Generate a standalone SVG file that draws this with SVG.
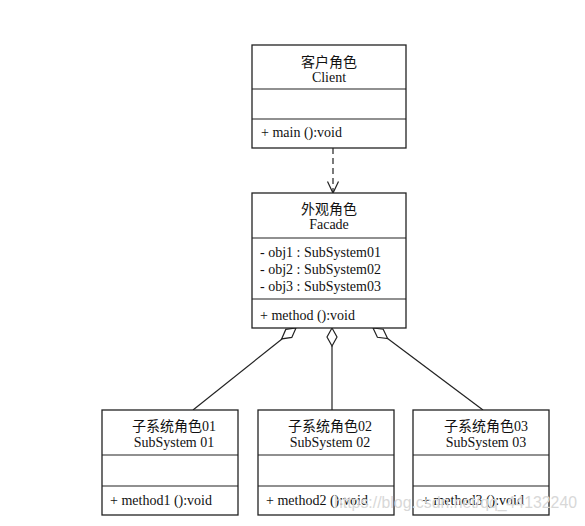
<svg xmlns="http://www.w3.org/2000/svg" width="585" height="526" viewBox="0 0 585 526">
<style>
.box{fill:#fff;stroke:#222;stroke-width:1.3}
.div{stroke:#222;stroke-width:1.2}
.t{font-family:"Liberation Serif","Noto Sans CJK SC",serif;font-size:14px;fill:#111}
.c{text-anchor:middle}
.ln{stroke:#222;stroke-width:1.2;fill:none}
.dia{fill:#fff;stroke:#222;stroke-width:1.2}
.wm{font-family:"Liberation Sans",sans-serif;font-size:16px;fill:#d8d8d8}
</style>
<rect width="585" height="526" fill="#fff"/>
<g id="connectors">
<line class="ln" x1="333" y1="148" x2="333" y2="192" stroke-dasharray="6,4"/>
<polyline class="ln" points="327.5,181.5 333,193 338.5,181.5"/>
<line class="ln" x1="332" y1="346" x2="332" y2="410"/>
<line class="ln" x1="282" y1="339" x2="193" y2="410"/>
<line class="ln" x1="387.6" y1="338.5" x2="483" y2="410"/>
<polygon class="dia" points="332,328 337,337 332,346 327,337"/>
<polygon class="dia" points="296,328 291.8,337.4 281.6,338.9 285.8,329.4"/>
<polygon class="dia" points="373,328 383.2,329.2 387.6,338.5 377.4,337.3"/>
</g>
<g id="client">
<rect class="box" x="252" y="45" width="154" height="103"/>
<line class="div" x1="252" y1="89" x2="406" y2="89"/>
<line class="div" x1="252" y1="119" x2="406" y2="119"/>
<text class="t c" x="329" y="67">客户角色</text>
<text class="t c" x="329" y="82">Client</text>
<text class="t" x="261" y="137">+ main ():void</text>
</g>
<g id="facade">
<rect class="box" x="252" y="193" width="154" height="135"/>
<line class="div" x1="252" y1="238" x2="406" y2="238"/>
<line class="div" x1="252" y1="299" x2="406" y2="299"/>
<text class="t c" x="329" y="214">外观角色</text>
<text class="t c" x="329" y="229">Facade</text>
<text class="t" x="260" y="257">- obj1 : SubSystem01</text>
<text class="t" x="260" y="274">- obj2 : SubSystem02</text>
<text class="t" x="260" y="291">- obj3 : SubSystem03</text>
<text class="t" x="260" y="320">+ method ():void</text>
</g>
<g id="subsystem01">
<rect class="box" x="102" y="410" width="136" height="105"/>
<line class="div" x1="102" y1="455" x2="238" y2="455"/>
<line class="div" x1="102" y1="486" x2="238" y2="486"/>
<text class="t c" x="174" y="431">子系统角色01</text>
<text class="t c" x="174" y="447">SubSystem  01</text>
<text class="t" x="110" y="505">+ method1 ():void</text>
</g>
<g id="subsystem02">
<rect class="box" x="258" y="410" width="136" height="105"/>
<line class="div" x1="258" y1="455" x2="394" y2="455"/>
<line class="div" x1="258" y1="486" x2="394" y2="486"/>
<text class="t c" x="330" y="431">子系统角色02</text>
<text class="t c" x="330" y="447">SubSystem  02</text>
<text class="t" x="266" y="505">+ method2 ():void</text>
</g>
<g id="subsystem03">
<rect class="box" x="413" y="410" width="136" height="105"/>
<line class="div" x1="413" y1="455" x2="549" y2="455"/>
<line class="div" x1="413" y1="486" x2="549" y2="486"/>
<text class="t c" x="486" y="431">子系统角色03</text>
<text class="t c" x="486" y="447">SubSystem  03</text>
<text class="t" x="422" y="505">+ method3 ():void</text>
</g>
<text class="wm" x="334" y="508" textLength="243" lengthAdjust="spacingAndGlyphs">https://blog.csdn.net/qq_44132240</text>
</svg>
